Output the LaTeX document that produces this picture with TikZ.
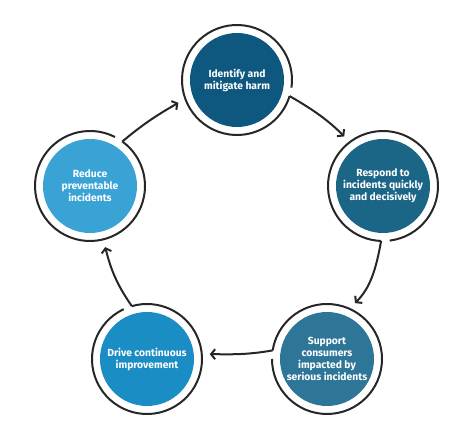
\documentclass[tikz,border=0pt]{standalone}
\usepackage{fontspec}
\setmainfont{Fira Sans}
\usetikzlibrary{arrows.meta}

\definecolor{stageA}{RGB}{14,88,128}
\definecolor{stageB}{RGB}{27,101,135}
\definecolor{stageC}{RGB}{46,118,152}
\definecolor{stageD}{RGB}{26,141,196}
\definecolor{stageE}{RGB}{58,163,213}

\tikzset{
  stage/.style={circle,minimum size=94pt,inner sep=0pt,outer sep=8pt,
    text=white,align=center,font=\bfseries\fontsize{10.3}{12}\selectfont},
  ring/.style={line width=2pt,black!85},
  flow/.style={ring,-{Straight Barb[length=4pt,width=10pt]},shorten >=8pt}
}

\begin{document}
\begin{tikzpicture}[x=1pt,y=1pt]
    \useasboundingbox (0,0) rectangle (474,-443);
    % stages
    \node[stage,fill=stageA] (identify) at (237,-80)    {Identify and\\mitigate harm};
    \node[stage,fill=stageB] (respond)  at (383,-186)   {Respond to\\incidents quickly\\and decisively};
    \node[stage,fill=stageC] (support)  at (327,-359)   {Support\\consumers\\impacted by\\serious incidents};
    \node[stage,fill=stageD] (improve)  at (147,-359)   {Drive continuous\\improvement};
    \node[stage,fill=stageE] (reduce)   at (90,-186)    {Reduce\\preventable\\incidents};
    % rings
    \draw[ring] (identify.-8) arc[start angle=-8,end angle=343,radius=55];
    \draw[ring] (respond.-83) arc[start angle=-83,end angle=268,radius=55];
    \draw[ring] (support.180) arc[start angle=180,end angle=531,radius=55];
    \draw[ring] (improve.115) arc[start angle=115,end angle=466,radius=55];
    \draw[ring] (reduce.63)   arc[start angle=63,end angle=414,radius=55];
    % arrows
    \draw[flow] (identify.-17) to[out=-30,in=135] (respond.127);
    \draw[flow] (respond.-92)  to[out=-100,in=45] (support.66);
    \draw[flow] (support.171)  to[out=190,in=0]   (improve.5);
    \draw[flow] (improve.106)  to[out=125,in=-76] (reduce.-76);
    \draw[flow] (reduce.54)    to[out=40,in=210]  (identify.200);
\end{tikzpicture}
\end{document}
